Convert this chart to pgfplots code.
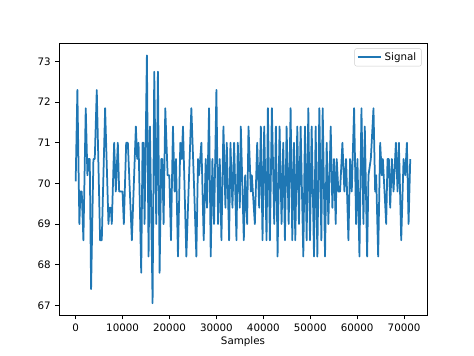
\documentclass[border=0pt]{standalone}
\usepackage{pgfplots}
\pgfplotsset{compat=1.18}
\usepackage{fontspec}
\setmainfont{DejaVu Sans}
\definecolor{mplblue}{RGB}{31,119,180}
\begin{document}
\begin{tikzpicture}
\path[use as bounding box] (-57.3pt,-38.9pt) rectangle (403.4pt,306.8pt);
\begin{axis}[
  at={(0,0)}, anchor=south west,
  scale only axis, width=357.7pt, height=265pt,
  xmin=-3566, xmax=74877, ymin=66.745, ymax=73.455,
  xtick={0,10000,20000,30000,40000,50000,60000,70000},
  ytick={67,68,69,70,71,72,73},
  scaled ticks=false,
  /pgf/number format/.cd, set thousands separator={}, assume math mode=true, /pgfplots/.cd,
  tick pos=left, tick align=outside, major tick length=3.5pt,
  tick style={black, line width=0.8pt},
  axis line style={line width=0.8pt},
  ticklabel style={font=\fontsize{10}{12}\selectfont},
  xticklabel style={yshift=-1pt},
  yticklabel style={xshift=-1pt},
  xlabel={Samples},
  xlabel style={font=\fontsize{10}{12}\selectfont, yshift=2pt},
  legend style={at={(1,1)}, xshift=-5.2pt, yshift=-5.2pt, anchor=north east,
    draw=black!20, rounded corners=2pt, font=\fontsize{10}{12}\selectfont,
    inner xsep=2pt, inner ysep=2.5pt, nodes={inner xsep=3pt, inner ysep=1.5pt}},
  legend cell align=left,
  legend image code/.code={\draw[#1] (0pt,0pt) -- (22.5pt,0pt);},
]
\addplot[mplblue, line width=1.7pt, line join=round] coordinates {
(0,70.05) (363,72.3) (790,69.0) (1004,69.8) (1289,69.8) (1645,68.6) (2143,71.85)
(2500,70.2) (2714,70.6) (2998,70.6) (3284,67.4) (3782,70.6) (4067,70.6) (4494,72.3)
(5207,68.6) (5562,68.6) (6275,71.85) (6988,69.0) (7202,69.4) (7486,69.4) (7700,69.0)
(8199,71.0) (8555,69.8) (8982,71.0) (9268,69.8) (9980,69.8) (10264,69.0) (10763,71.0)
(11119,71.0) (11262,70.6) (11974,68.6) (12829,71.4) (13114,70.6) (13399,71.0) (13969,67.8)
(14254,71.0) (14467,71.0) (14681,69.0) (15180,73.15) (15536,68.2) (15821,71.4) (16391,67.05)
(16747,72.75) (17175,69.0) (17530,72.75) (17887,67.8) (18243,70.6) (18456,70.6) (18741,69.0)
(19097,71.85) (19596,70.2) (19952,70.2) (20308,68.6) (20735,71.4) (21092,69.8) (21376,70.6)
(21803,68.2) (22304,71.0) (22600,70.6) (22873,71.4) (23586,68.2) (24654,71.85) (25153,70.2)
(25723,68.2) (26079,70.6) (26292,70.2) (26791,71.0) (27290,68.6) (27717,70.6) (28002,69.4)
(28429,71.85) (28785,68.2) (29142,70.6) (29498,69.0) (29996,72.3) (30352,69.0) (30709,70.6)
(31065,68.6) (31492,71.4) (31920,69.4) (32204,71.0) (32703,68.6) (32988,71.0) (33415,69.4)
(33771,71.0) (34270,68.6) (34555,71.0) (34982,69.4) (35196,71.4) (35837,68.6) (36122,70.2)
(36549,69.0) (36834,71.4) (37333,69.8) (37547,70.2) (37760,69.8) (38188,69.0) (38686,71.0)
(39113,69.4) (39470,71.4) (39826,68.6) (40182,71.4) (40681,68.6) (40966,71.85) (41393,68.6)
(41821,71.85) (42319,69.0) (42675,71.4) (43032,68.2) (43459,71.4) (43886,69.0) (44242,71.0)
(44599,68.6) (44955,71.4) (45400,69.0) (45810,71.85) (46166,68.6) (46522,71.0) (46807,68.6)
(47234,71.4) (47590,69.0) (47947,71.4) (48517,68.2) (48873,71.4) (49230,68.6) (49586,71.85)
(49942,68.6) (50298,71.4) (50797,68.2) (51153,71.4) (51509,68.2) (51936,71.85) (52364,68.6)
(52649,71.85) (53147,68.2) (53503,71.0) (53860,69.0) (54358,71.4) (54714,69.4) (55070,70.6)
(55426,69.0) (55640,70.6) (55996,69.8) (56353,69.8) (56851,71.0) (57278,69.8) (57635,70.6)
(58133,68.6) (58490,70.6) (58846,69.8) (59344,71.85) (59772,69.0) (60057,70.6) (60484,68.2)
(60911,71.85) (61339,69.0) (61624,71.4) (62122,68.2) (62407,70.2) (62906,70.6) (63476,71.85)
(63832,69.8) (64046,70.2) (64473,68.2) (64900,71.0) (65257,70.2) (65470,70.6) (66183,69.0)
(66468,70.6) (66752,70.6) (67037,69.4) (67393,70.6) (67750,69.8) (68248,71.0) (68604,69.8)
(68889,71.0) (69388,68.6) (69886,70.6) (70242,70.2) (70598,71.0) (70955,69.0) (71311,70.6)
};
\addlegendentry{Signal}
\end{axis}
\end{tikzpicture}
\end{document}
